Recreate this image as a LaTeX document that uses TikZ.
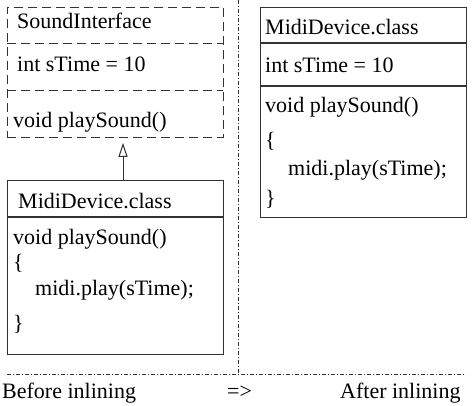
\documentclass[tikz,border=0pt]{standalone}
\usepackage{fontspec}
\setmainfont{Liberation Serif}
\usetikzlibrary{arrows.meta,calc}
\begin{document}
\begin{tikzpicture}[x=1pt,y=-1pt,
  txt/.style={anchor=base west,inner sep=0pt,font=\fontsize{22}{26}\selectfont},
  solidbox/.style={draw=black!80,line width=1.1pt,anchor=north west,inner sep=0pt},
  dashbox/.style={draw=black!80,line width=0.9pt,dash pattern=on 9pt off 5pt,anchor=north west,inner sep=0pt},
  sepline/.style={draw=black!80,line width=0.8pt,dash pattern=on 4pt off 2pt on 1pt off 2pt}]
\useasboundingbox (0,0) rectangle (474,405);
% left interface box
\node[dashbox,minimum width=216pt,minimum height=130pt] (si) at (7,7) {};
\draw[draw=black!80,line width=0.9pt,dash pattern=on 9pt off 5pt] (7,43) -- (223,43) (7,90) -- (223,90);
\node[txt] (siname) at (17,28) {SoundInterface};
\node[txt] (siattr) at (17,71) {int sTime = 10};
\node[txt] (siop) at (13,127) {void playSound()};
% left class box
\node[solidbox,minimum width=216pt,minimum height=174pt] (md) at (7,180) {};
\draw[draw=black!80,line width=1.1pt] (7,217) -- (223,217);
\node[txt] (mdname) at (18,208) {MidiDevice.class};
\node[txt] (mdl1) at (13,244) {void playSound()};
\node[txt] (mdl2) at (13,269) {\{};
\node[txt] (mdl3) at (35,295) {midi.play(sTime);};
\node[txt] (mdl4) at (13,330) {\}};
% inheritance arrow
\coordinate (arrfrom) at ($(md.north west)+(116,0)$);
\coordinate (arrto) at ($(si.south west)+(116,5)$);
\draw[draw=black!80,line width=1pt,-{Triangle[open,length=14pt,width=9pt]}] (arrfrom) -- (arrto);
% right class box
\node[solidbox,minimum width=206pt,minimum height=210pt] (rd) at (260,7) {};
\draw[draw=black!80,line width=1.1pt] (260,43) -- (466,43) (260,86) -- (466,86);
\node[txt] (rdname) at (265,34) {MidiDevice.class};
\node[txt] (rdattr) at (265,72) {int sTime = 10};
\node[txt] (rdl1) at (265,112) {void playSound()};
\node[txt] (rdl2) at (265,147) {\{};
\node[txt] (rdl3) at (288,175) {midi.play(sTime);};
\node[txt] (rdl4) at (265,205) {\}};
% separators
\coordinate (vtop) at (238,0);
\coordinate (vbot) at (238,374);
\coordinate (hl) at (7,374);
\coordinate (hr) at (466,374);
\draw[sepline] (vtop) -- (vbot);
\draw[sepline] (hl) -- (hr);
% captions
\node[txt] (before) at (2,398) {Before inlining};
\node[txt] (arrowtxt) at (227,398) {=>};
\node[txt] (after) at (340,398) {After inlining};
\end{tikzpicture}
\end{document}
